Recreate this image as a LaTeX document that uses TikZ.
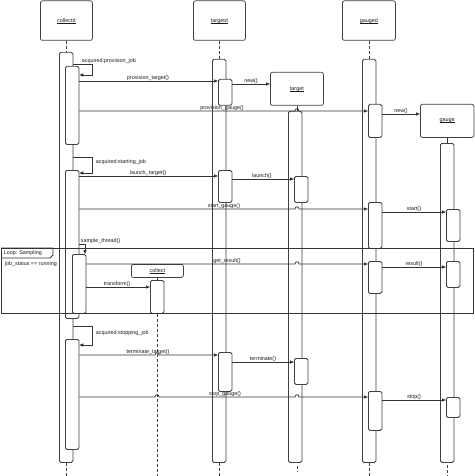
\documentclass[tikz,border=0pt]{standalone}
\usepackage{fontspec}
\setmainfont{Liberation Sans}
\usetikzlibrary{arrows.meta}
\newcommand\myul[1]{\setbox0\hbox{#1}\rlap{\rule[-0.9pt]{\wd0}{0.35pt}}\box0}
\begin{document}
\begin{tikzpicture}[x=1pt,y=-1pt,
  line width=0.75pt, color=black!80,
  every node/.style={font=\fontsize{5.4}{6}\selectfont, text=black!90},
  head/.style={draw=black!75, rounded corners=2pt, fill=white, inner sep=0, anchor=north west},
  act/.style={draw=black!75, rounded corners=1.5pt, fill=white, inner sep=0, anchor=north west, minimum width=13.5pt},
  life/.style={draw=black!75, dash pattern=on 3pt off 2pt},
  msg/.style={draw=black!80, -{Triangle[length=4pt,width=3pt]}},
  lab/.style={inner sep=0.5pt, anchor=south},
]
\useasboundingbox (0,0) rectangle (474,476);

% outer activations
\node[act, minimum height=410pt] (cO) at (59,52) {};
\node[act, minimum height=403pt] (tO) at (212,59) {};
\node[act, minimum height=351pt] (xO) at (288,111) {};
\node[act, minimum height=403pt] (gO) at (362,59) {};
\node[act, minimum height=319pt] (yO) at (440,143) {};
\node[act, minimum height=33pt] (kA) at (150,280) {};

% heads
\node[head, minimum width=52pt, minimum height=39.5pt] (hC) at (40,0.5) {\myul{collectd}};
\node[head, minimum width=52pt, minimum height=39.5pt] (hT) at (193,0.5) {\myul{targetd}};
\node[head, minimum width=53pt, minimum height=39.5pt] (hG) at (342,0.5) {\myul{gauged}};
\node[head, minimum width=53pt, minimum height=33pt] (bT) at (270,72) {\myul{target}};
\node[head, minimum width=53.5pt, minimum height=33pt] (bG) at (420,104) {\myul{gauge}};
\node[head, minimum width=52pt, minimum height=13pt] (bK) at (131,264) {\myul{collect}};

% lifelines
\draw[life] (hC.south) -- (hC.south |- cO.north);
\draw[life] (hT.south) -- (hT.south |- tO.north);
\draw[life] (hG.south) -- (hG.south |- gO.north);
\draw (bT.south) -- (bT.south |- xO.north);
\draw (bG.south) -- (bG.south |- yO.north);
\draw (bK.south) -- (bK.south |- kA.north);
\draw[life] (cO.south) -- (cO.south |- 0,476);
\draw[life] (tO.south) -- (tO.south |- 0,476);
\draw[life] (xO.south) ++(2.5,3) -- ++(0,6);
\draw[life] (gO.south) -- (gO.south |- 0,476);
\draw[life] (yO.south) ++(0,2) -- ++(0,14);
\draw[life] (kA.south) -- (kA.south |- 0,476);

% inner activations
\node[act, minimum height=78pt] (cA1) at (65,66) {};
\node[act, minimum height=148pt] (cA2) at (65,170) {};
\node[act, minimum height=59pt] (cL) at (72,254) {};
\node[act, minimum height=110pt] (cA3) at (65,339) {};
\node[act, minimum height=26pt] (tA1) at (218,79) {};
\node[act, minimum height=32pt] (tA2) at (218,170) {};
\node[act, minimum height=39pt] (tA3) at (218,352) {};
\node[act, minimum height=26pt] (xA1) at (294,176) {};
\node[act, minimum height=26pt] (xA2) at (294,358) {};
\node[act, minimum height=33pt] (gA1) at (368,104) {};
\node[act, minimum height=46pt] (gA2) at (368,202) {};
\node[act, minimum height=32pt] (gA3) at (368,261) {};
\node[act, minimum height=39pt] (gA4) at (368,391) {};
\node[act, minimum height=32pt] (yA1) at (446,209) {};
\node[act, minimum height=26pt] (yA2) at (446,261) {};
\node[act, minimum height=20pt] (yA3) at (446,397) {};

% messages: provisioning
\draw[msg] (cO.east |- 0,64) -- (92,64) -- (92,75) -- (cA1.east |- 0,75);
\node[anchor=south west, inner sep=0.5pt] (l1) at (81,64.5) {acquired:provision\_job};
\draw[msg] (cA1.east |- 0,81) -- (tA1.west |- 0,81);
\node[lab] (l2) at (148,81) {provision\_target()};
\draw[msg] (tA1.east |- 0,84) -- (bT.west |- 0,84);
\node[lab] (l3) at (251,84) {new()};
\draw[msg] (cA1.east |- 0,111) -- (295,111) .. controls (295,108) and (299,108) .. (299,111) -- (gA1.west |- 0,111);
\node[lab] (l4) at (222,111) {provision\_gauge()};
\draw[msg] (gA1.east |- 0,114) -- (bG.west |- 0,114);
\node[lab] (l5) at (401,114) {new()};

% starting
\draw[msg] (cO.east |- 0,157) -- (92,157) -- (92,173) -- (cA2.east |- 0,173);
\node[anchor=west, inner sep=0.5pt] (l6) at (95,162) {acquired:starting\_job};
\draw[msg] (cA2.east |- 0,176) -- (tA2.west |- 0,176);
\node[lab] (l7) at (148,176) {launch\_target()};
\draw[msg] (tA2.east |- 0,179) -- (xA1.west |- 0,179);
\node[lab] (l8) at (262,179) {launch()};
\draw[msg] (cA2.east |- 0,209) -- (295,209) .. controls (295,206) and (299,206) .. (299,209) -- (gA2.west |- 0,209);
\node[lab] (l9) at (224,209) {start\_gauge()};
\draw[msg] (gA2.east |- 0,212) -- (yA1.west |- 0,212);
\node[lab] (l10) at (414,212) {start()};

% sampling loop
\draw[msg] (cA2.east |- 0,244) -- (85,244) -- (cL.north -| 85,0);
\node[anchor=south west, inner sep=0.5pt] (l11) at (80,244.5) {sample\_thread()};
\draw[msg] (cL.east |- 0,264) -- (295,264) .. controls (295,261) and (299,261) .. (299,264) -- (gA3.west |- 0,264);
\node[lab] (l12) at (227,264) {get\_result()};
\draw[msg] (gA3.east |- 0,267) -- (yA2.west |- 0,267);
\node[lab] (l13) at (414,267) {result()};
\draw[msg] (cL.east |- 0,287) -- (kA.west |- 0,287);
\node[lab] (l14) at (117,287) {transform()};

% stopping
\draw[msg] (cO.east |- 0,326) -- (92,326) -- (92,345) -- (cA3.east |- 0,345);
\node[anchor=west, inner sep=0.5pt] (l15) at (95,333) {acquired:stopping\_job};
\draw[msg] (cA3.east |- 0,355) -- (155,355) .. controls (155,352) and (159,352) .. (159,355) -- (tA3.west |- 0,355);
\node[lab] (l16) at (148,355) {terminate\_target()};
\draw[msg] (tA3.east |- 0,362) -- (xA2.west |- 0,362);
\node[lab] (l17) at (263,362) {terminate()};
\draw[msg] (cA3.east |- 0,397) -- (155,397) .. controls (155,394) and (159,394) .. (159,397) -- (295,397) .. controls (295,394) and (299,394) .. (299,397) -- (gA4.west |- 0,397);
\node[lab] (l18) at (225,397) {stop\_gauge()};
\draw[msg] (gA4.east |- 0,400) -- (yA3.west |- 0,400);
\node[lab] (l19) at (414,400) {stop()};

% loop frame
\node[draw=black!80, anchor=north west, minimum width=472pt, minimum height=65pt, inner sep=0] (frame) at (1,248) {};
\draw[black!80] (frame.north west) -- ++(52,0) -- ++(0,7) -- ++(-3,3) -- ++(-49,0);
\node[anchor=west, inner sep=0.5pt] (ltab) at (3,253) {Loop: Sampling};
\node[anchor=west, inner sep=0.5pt] (lguard) at (4,264) {job\_status == running};
\end{tikzpicture}
\end{document}
